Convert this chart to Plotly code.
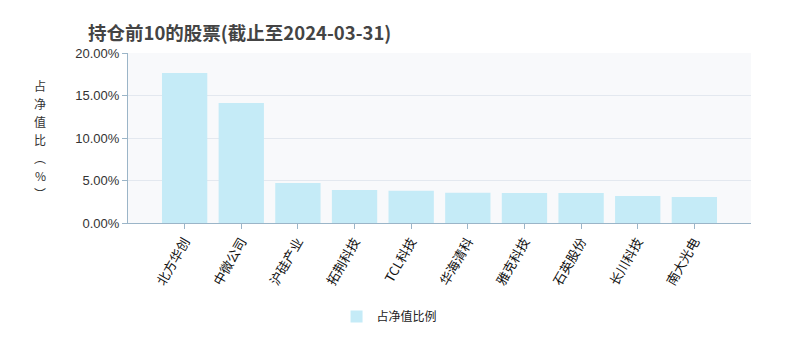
import plotly.graph_objects as go

categories = ["北方华创", "中微公司", "沪硅产业", "拓荆科技", "TCL科技", "华海清科", "雅克科技", "石英股份", "长川科技", "南大光电"]
values = [17.65, 14.12, 4.71, 3.88, 3.78, 3.55, 3.53, 3.53, 3.18, 3.06]
y_ticks = [0, 5, 10, 15, 20]
y_tick_labels = ["0.00%", "5.00%", "10.00%", "15.00%", "20.00%"]
y_title_chars = ["占", "净", "值", "比", "︵", "%", "︶"]

fig = go.Figure()
fig.add_trace(go.Bar(
    x=categories, y=values, name="占净值比例",
    marker=dict(color="#c5ebf7", line=dict(width=0)),
    showlegend=True,
))

fig.update_layout(
    width=795, height=337,
    margin=dict(l=128, r=44, t=53, b=114, autoexpand=False),
    paper_bgcolor="white",
    plot_bgcolor="#f8f9fb",
    bargap=0.2,
    font=dict(family="Noto Sans CJK SC, sans-serif", size=12, color="#333"),
    title=dict(text="<b>持仓前10的股票(截止至2024-03-31)</b>", x=0, xref="paper", xanchor="left",
               y=0.902, yref="container", yanchor="middle",
               font=dict(size=18.5, color="#444", family="Noto Sans CJK SC"),
               pad=dict(l=-40)),
    legend=dict(orientation="h", x=0.49, xref="container", xanchor="center",
                y=-0.55, yanchor="middle",
                font=dict(size=12, color="#222"), itemwidth=30),
    xaxis=dict(
        automargin=False, range=[-1, 10],
        tickangle=-60, ticks="outside", ticklen=5, tickcolor="#9bb5c8",
        showline=True, linecolor="#9bb5c8", linewidth=1,
        tickfont=dict(family="Noto Sans CJK SC", size=13, color="#111"),
        showgrid=False,
    ),
    yaxis=dict(
        automargin=False,
        range=[0, 20], tickvals=y_ticks, ticktext=y_tick_labels,
        ticks="outside", ticklen=5, tickcolor="#9bb5c8",
        showline=True, linecolor="#9bb5c8", linewidth=1,
        gridcolor="#e3e8ef", gridwidth=1, zeroline=False,
        tickfont=dict(family="Liberation Sans, Arial", size=13, color="#333"),
    ),
)

for i, ch in enumerate(y_title_chars):
    fig.add_annotation(
        text=ch, xref="paper", yref="paper", x=-0.141, y=0.81, yshift=-18 * i,
        xanchor="center", yanchor="middle", showarrow=False,
        font=dict(size=12, color="#333", family="Noto Sans CJK SC"),
    )

fig.write_html("out.html")
